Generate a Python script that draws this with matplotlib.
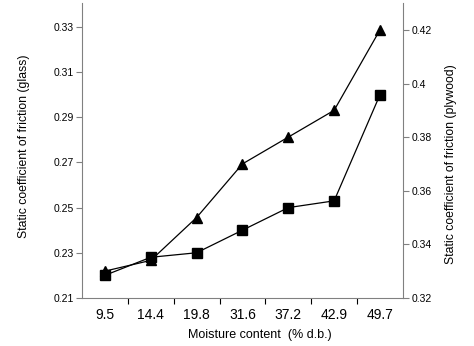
import numpy as np
import matplotlib.pyplot as plt

plt.rcParams['font.family'] = ['Liberation Sans', 'DejaVu Sans']

# moisture content categories (% d.b.)
moisture = ['9.5', '14.4', '19.8', '31.6', '37.2', '42.9', '49.7']
# static coefficient of friction on glass (left axis)
glass = [0.220, 0.228, 0.230, 0.240, 0.250, 0.253, 0.300]
# static coefficient of friction on plywood (right axis)
plywood = [0.330, 0.334, 0.350, 0.370, 0.380, 0.390, 0.420]

x = np.arange(len(moisture))
grey = '#808080'

fig = plt.figure(figsize=(4.74, 3.46), dpi=100)
ax = fig.add_axes([0.173, 0.139, 0.677, 0.852])
ax2 = ax.twinx()

ax.plot(x, glass, color='black', lw=0.9, marker='s', ms=6.5, zorder=3)
ax2.plot(x, plywood, color='black', lw=0.9, marker='^', ms=6.5, zorder=3)

ax.set_xlim(-0.5, len(moisture) - 0.5)
ax.set_ylim(0.21, 0.3406)
ax2.set_ylim(0.32, 0.430)
ax.set_yticks([0.21, 0.23, 0.25, 0.27, 0.29, 0.31, 0.33])
ax.set_yticklabels(['0.21', '0.23', '0.25', '0.27', '0.29', '0.31', '0.33'])
ax2.set_yticks([0.32, 0.34, 0.36, 0.38, 0.4, 0.42])
ax2.set_yticklabels(['0.32', '0.34', '0.36', '0.38', '0.4', '0.42'])

# tick marks on category boundaries, labels at centres
ax.set_xticks(x[:-1] + 0.5)
ax.set_xticklabels([])
ax.set_xticks(x, minor=True)
ax.set_xticklabels(moisture, minor=True)
ax.tick_params(axis='x', which='minor', length=0, pad=7)
ax.tick_params(axis='x', which='major', length=4, color=grey)

for a in (ax, ax2):
    a.spines['top'].set_visible(False)
    for s in a.spines.values():
        s.set_color(grey)
        s.set_linewidth(0.8)
    a.tick_params(labelsize=7.5, colors='black')
    a.tick_params(axis='y', length=4, color=grey, pad=2)
ax.spines['right'].set_visible(False)
ax2.spines['left'].set_visible(False)
ax2.spines['bottom'].set_visible(False)

ax.set_xlabel('Moisture content  (% d.b.)', fontsize=9, labelpad=5)
ax.xaxis.label.set_x(0.555)
ax.set_ylabel('Static coefficient of friction (glass)', fontsize=8.8, labelpad=17)
ax.yaxis.label.set_y(0.514)
ax2.set_ylabel('Static coefficient of friction (plywood)', fontsize=8.8, labelpad=10)
ax2.yaxis.label.set_y(0.454)

fig.savefig('out.png', dpi=100)
